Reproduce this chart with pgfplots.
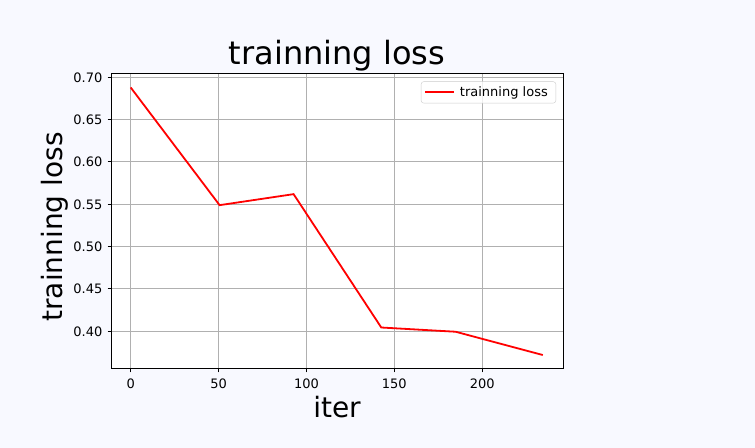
\documentclass[border=0pt]{standalone}
\usepackage{pgfplots}
\pgfplotsset{compat=1.18}
\usepackage{fontspec}
\setmainfont{DejaVu Sans}
\definecolor{bgc}{RGB}{248,249,255}
\definecolor{gridc}{RGB}{176,176,176}
\definecolor{legc}{RGB}{204,204,204}
\begin{document}
\begin{tikzpicture}
\fill[bgc] (0bp,0bp) rectangle (755bp,448bp);
\begin{axis}[
  at={(111bp,79bp)}, anchor=south west,
  scale only axis, width=452bp, height=295bp,
  xmin=-11.2, xmax=246, ymin=0.3555, ymax=0.7039,
  xtick={0,50,100,150,200},
  ytick={0.40,0.45,0.50,0.55,0.60,0.65,0.70},
  yticklabel style={/pgf/number format/fixed, /pgf/number format/fixed zerofill, /pgf/number format/precision=2, xshift=-5bp},
  /pgf/number format/assume math mode=true,
  tick label style={font=\fontsize{13bp}{15bp}\selectfont, inner sep=0pt},
  xticklabel style={yshift=-6.5bp},
  tick align=outside, major tick length=3.5bp,
  tick style={black, line width=1bp},
  xtick pos=bottom, ytick pos=left,
  axis line style={black, line width=1bp},
  grid=major, major grid style={gridc, line width=1bp},
  axis background/.style={fill=white},
  legend cell align=left,
  legend style={at={(1,1)}, anchor=north east, xshift=-7bp, yshift=-7.5bp,
    draw=legc, rounded corners=2.5bp, fill=white, fill opacity=0.8, text opacity=1,
    font=\fontsize{13bp}{15bp}\selectfont, inner xsep=3bp, inner ysep=3bp,
    nodes={inner xsep=5bp, inner ysep=2bp}},
]
\addplot[color=red, line width=1.8bp,
  legend image code/.code={\draw[red, line width=1.8bp, opacity=1] (0bp,0bp) -- (29bp,0bp);}] coordinates {
  (0,0.688) (50.6,0.549) (92.7,0.562) (142.6,0.4045) (184.9,0.3995) (234.5,0.372)
};
\addlegendentry{trainning loss}
\end{axis}
\node[anchor=base, font=\fontsize{32bp}{38bp}\selectfont] at (337bp,383bp) {trainning loss};
\node[anchor=base, font=\fontsize{28bp}{34bp}\selectfont] at (337bp,30.3bp) {iter};
\node[anchor=base, rotate=90, font=\fontsize{28bp}{34bp}\selectfont] at (62bp,221bp) {trainning loss};
\end{tikzpicture}
\end{document}
